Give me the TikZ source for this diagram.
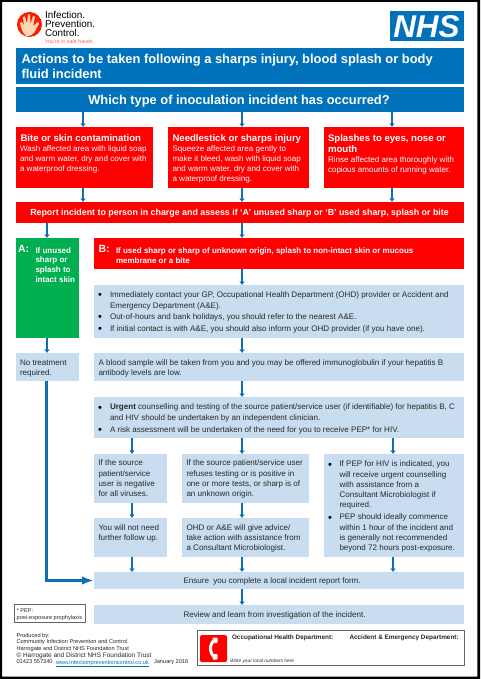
\documentclass[tikz,border=0pt]{standalone}
\usepackage{fontspec}
\setmainfont{Liberation Sans}
\usetikzlibrary{arrows.meta,calc}
\definecolor{nhsblue}{RGB}{0,114,188}
\definecolor{arrblue}{RGB}{15,110,180}
\definecolor{pale}{RGB}{200,222,240}
\definecolor{redbox}{RGB}{255,0,0}
\definecolor{greenbox}{RGB}{0,176,80}
\definecolor{txt}{RGB}{40,40,40}
\newcommand{\fs}[2]{\fontsize{#1}{#2}\selectfont}
\tikzset{
  bluebox/.style={fill=nhsblue,draw=none},
  palebox/.style={fill=pale,draw=none},
  rbox/.style={fill=redbox,draw=none},
  arr/.style={draw=arrblue,line width=1.8pt,-{Latex[length=3.4pt,width=6pt]}},
  bigarr/.style={draw=arrblue,line width=2.6pt,-{Latex[length=12pt,width=8.5pt]}},
  lab/.style={anchor=north west,inner sep=0pt,outer sep=0pt,align=left,text=txt,yshift=-2pt,font=\fs{8.05}{10.2}},
  wlab/.style={anchor=north west,inner sep=0pt,outer sep=0pt,align=left,text=white,yshift=-2pt,font=\fs{8.05}{10.1}},
  wbold/.style={wlab,font=\fs{9.6}{11}\bfseries},
  clab/.style={anchor=center,inner sep=0pt,outer sep=0pt,align=center},
  bull/.style={anchor=base west,inner sep=0pt,outer sep=0pt,text=black,font=\fs{11}{11}},
}
\newcommand{\rbx}[6]{\node[#1,minimum width=#4-#2,minimum height=#5-#3,anchor=north west,inner sep=0pt,outer sep=0pt] (#6) at (#2,#3) {};}
\begin{document}
\begin{tikzpicture}[x=1pt,y=-1pt]
\useasboundingbox (0,0) rectangle (480,679);
\fill[white] (0,0) rectangle (480,679);
\fill[black,even odd rule] (0,0) rectangle (480,679) (2,2) rectangle (477.3,676.7);
% logos
\fill[red!80!orange] (29.5,24.5) circle (12.5);
\fill[white!70!orange] (26,36) .. controls (22,32) and (21,28) .. (20,23) -- (22,22) -- (24,26) -- (23,17) -- (25,16.5) -- (27,24) -- (28,14.5) -- (30,14.5) -- (30.5,24) -- (33,16) -- (35,17) -- (33,26) -- (38,22) -- (39,24) -- (34,33) .. controls (33,35) and (30,36) .. (26,36) -- cycle;
\node[lab,text=black,font=\fs{9.9}{9}] at (45,9.5) {Infection.\\Prevention.\\Control.};
\node[lab,text=red!65!white,font=\fs{5.3}{6}] at (45,37.5) {You’re in safe hands};
\fill[nhsblue] (390,11) rectangle (464,41.5);
\node[clab,text=white,font=\fs{31.5}{32}\bfseries\itshape] at (426.5,26.5) {NHS};
% boxes
\rbx{bluebox}{16}{48.5}{464}{84}{title}
\rbx{bluebox}{16}{87}{464}{112}{q}
\rbx{rbox}{15.5}{127}{153}{187.5}{r1}
\rbx{rbox}{168}{127}{308.5}{187.5}{r2}
\rbx{rbox}{324}{127}{464}{187.5}{r3}
\rbx{rbox}{15.5}{202}{464}{223}{rep}
\rbx{fill=greenbox}{16}{238}{79}{338}{a}
\rbx{rbox}{94}{238}{464}{269}{b}
\rbx{palebox}{94}{285}{464}{338}{b1}
\rbx{palebox}{16}{353}{79}{381}{nt}
\rbx{palebox}{94}{353}{464}{381}{blood}
\rbx{palebox}{94}{397}{464}{438}{urg}
\rbx{palebox}{94}{454}{167}{503}{s1}
\rbx{palebox}{182}{454}{309}{503}{s2}
\rbx{palebox}{324}{454}{464}{557}{pep}
\rbx{palebox}{94}{518}{167}{557}{s1b}
\rbx{palebox}{182}{518}{309}{557}{s2b}
\rbx{palebox}{94}{572}{464}{589}{ens}
\rbx{palebox}{94}{605}{464}{624}{rev}
\node[draw=black!60,line width=.8pt,minimum width=71pt,minimum height=18pt,anchor=north west,inner sep=0pt,outer sep=0pt] (note) at (14.5,604.5) {};
\node[draw=black!60,line width=.8pt,minimum width=267pt,minimum height=35pt,anchor=north west,inner sep=0pt,outer sep=0pt] (tel) at (197.5,630.5) {};
% column coordinates
\coordinate (c1) at (83,0);\coordinate (c2) at (242,0);\coordinate (c3) at (392,0);
\coordinate (ca) at (47,0);\coordinate (cb) at (132,0);\coordinate (cc) at (393,0);\coordinate (cn) at (46.7,0);
% arrows
\foreach \col/\bx in {c1/r1,c2/r2,c3/r3}{
  \draw[arr] (q.south -| \col) -- (\bx.north -| \col);
  \draw[arr] (\bx.south -| \col) -- (rep.north -| \col);
}
\draw[arr] (rep.south -| ca) -- (a.north -| ca);
\draw[arr] (rep.south -| c2) -- (b.north -| c2);
\draw[arr] (b.south -| c2) -- (b1.north -| c2);
\draw[arr] (a.south -| ca) -- (nt.north -| ca);
\draw[arr] (b1.south -| c2) -- (blood.north -| c2);
\draw[arr] (blood.south -| c2) -- (urg.north -| c2);
\draw[arr] (urg.south -| cb) -- (s1.north -| cb);
\draw[arr] (urg.south -| c2) -- (s2.north -| c2);
\draw[arr] (urg.south -| cc) -- (pep.north -| cc);
\draw[arr] (s1.south -| cb) -- (s1b.north -| cb);
\draw[arr] (s2.south -| c2) -- (s2b.north -| c2);
\draw[arr] (s1b.south -| cb) -- (ens.north -| cb);
\draw[arr] (s2b.south -| c2) -- (ens.north -| c2);
\draw[arr] (pep.south -| cc) -- (ens.north -| cc);
\draw[arr] (ens.south -| c2) -- (rev.north -| c2);
\draw[bigarr] (nt.south -| cn) |- (ens.west);
% text
\node[wlab,font=\fs{12.9}{14.6}\bfseries] at (21.5,52.2) {Actions to be taken following a sharps injury, blood splash or body\\fluid incident};
\node[clab,text=white,font=\fs{12.85}{15}\bfseries] at (239,101.5) {Which type of inoculation incident has occurred?};
\node[wbold] at (20.5,132.5) {Bite or skin contamination};
\node[wlab] at (20,143.5) {Wash affected area with liquid soap\\and warm water, dry and cover with\\a waterproof dressing.};
\node[wbold] at (172.5,132.5) {Needlestick or sharps injury};
\node[wlab] at (172.5,143.5) {Squeeze affected area gently to\\make it bleed, wash with liquid soap\\and warm water, dry and cover with\\a waterproof dressing.};
\node[wbold] at (328,132.5) {Splashes to eyes, nose or\\mouth};
\node[wlab] at (328,154.5) {Rinse affected area thoroughly with\\copious amounts of running water.};
\node[clab,text=white,font=\fs{8.85}{10}\bfseries] at (239.5,213) {Report incident to person in charge and assess if ‘A’ unused sharp or ‘B’ used sharp, splash or bite};
\node[wlab,font=\fs{10.5}{11}\bfseries] at (18,243.5) {A:};
\node[wlab,font=\fs{8}{9.6}\bfseries] at (35.5,245.5) {If unused\\sharp or\\splash to\\intact skin};
\node[wlab,font=\fs{10.5}{11}\bfseries] at (98.5,243.5) {B:};
\node[wlab,font=\fs{8}{9.9}\bfseries] at (116,245.5) {If used sharp or sharp of unknown origin, splash to non-intact skin or mucous\\membrane or a bite};
% b1
\node[bull] at (98,298.8) {•};
\node[lab] at (110,290) {Immediately contact your GP, Occupational Health Department (OHD) provider or Accident and\\Emergency Department (A\&E).};
\node[bull] at (98,320.8) {•};
\node[lab] at (110,311.8) {Out-of-hours and bank holidays, you should refer to the nearest A\&E.};
\node[bull] at (98,332.8) {•};
\node[lab] at (110,323.8) {If initial contact is with A\&E, you should also inform your OHD provider (if you have one).};
\node[lab] at (20,357.5) {No treatment\\required.};
\node[lab] at (98.5,357.5) {A blood sample will be taken from you and you may be offered immunoglobulin if your hepatitis B\\antibody levels are low.};
\node[bull] at (98,411) {•};
\node[lab] at (110,402) {\textbf{Urgent} counselling and testing of the source patient/service user (if identifiable) for hepatitis B, C\\and HIV should be undertaken by an independent clinician.};
\node[bull] at (98,433) {•};
\node[lab] at (110,424.3) {A risk assessment will be undertaken of the need for you to receive PEP* for HIV.};
\node[lab] at (98.5,458) {If the source\\patient/service\\user is negative\\for all viruses.};
\node[lab] at (186.5,458) {If the source patient/service user\\refuses testing or is positive in\\one or more tests, or sharp is of\\an unknown origin.};
\node[bull] at (328,468) {•};
\node[lab] at (339.5,459) {If PEP for HIV is indicated, you\\will receive urgent counselling\\with assistance from a\\Consultant Microbiologist if\\required.};
\node[bull] at (328,521) {•};
\node[lab] at (339.5,512) {PEP should ideally commence\\within 1 hour of the incident and\\is generally not recommended\\beyond 72 hours post-exposure.};
\node[lab] at (98.5,522.5) {You will not need\\further follow up.};
\node[lab] at (186.5,522.5) {OHD or A\&E will give advice/\\take action with assistance from\\a Consultant Microbiologist.};
\node[lab] at (183.5,576) {Ensure\ \ you complete a local incident report form.};
\node[lab] at (183.5,609.5) {Review and learn from investigation of the incident.};
\node[lab,font=\fs{5.6}{7}] at (16.7,606.5) {* PEP:\\post-exposure prophylaxis};
\node[lab,font=\fs{5.65}{6.45}] at (16.5,631.3) {Produced by:\\Community Infection Prevention and Control\\Harrogate and District NHS Foundation Trust};
\node[lab,font=\fs{6.45}{7}] at (16.5,650.8) {© Harrogate and District NHS Foundation Trust};
\node[lab,font=\fs{5.65}{6.4}] (ph) at (16.5,658) {01423 557340};
\node[lab,font=\fs{5.65}{6.4},text=nhsblue] (lnk) at (56,658) {www.infectionpreventioncontrol.co.uk};
\node[lab,font=\fs{5.65}{6.4}] (jan) at (154,658) {January 2016};
\draw[nhsblue,line width=.5pt] ([yshift=-.6pt]lnk.south west) -- ([yshift=-.6pt]lnk.south east);
\fill[red,rounded corners=1.5pt] (200,635) rectangle (227,662);
\draw[white,line width=3pt] (215,640) .. controls (209,643) and (209,654) .. (215,657);
\fill[white,rounded corners=.8pt] (212.5,637.5) rectangle (217.5,643);
\fill[white,rounded corners=.8pt] (212.5,654) rectangle (217.5,659.5);
\node[lab,font=\fs{6.4}{7}\bfseries] at (232,632.5) {Occupational Health Department:};
\node[lab,font=\fs{6.4}{7}\bfseries] at (349.5,632.5) {Accident \& Emergency Department:};
\node[lab,font=\fs{4.8}{5}\itshape] at (230,657.5) {Write your local numbers here};
\end{tikzpicture}
\end{document}
